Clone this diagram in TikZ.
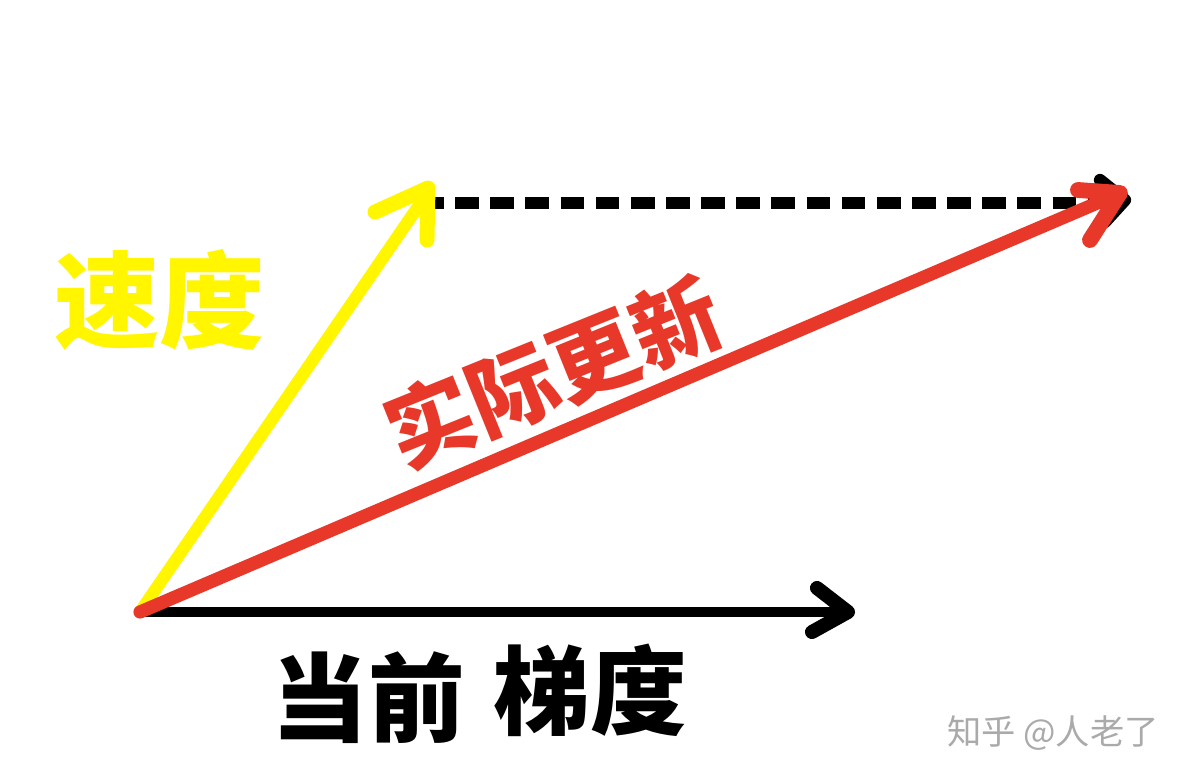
\documentclass[tikz,border=0pt]{standalone}
\usepackage{fontspec}
\newfontfamily\cjk{Noto Sans CJK SC}
\definecolor{yel}{RGB}{255,246,0}
\definecolor{redv}{RGB}{232,56,42}
\definecolor{wm}{RGB}{170,170,170}
\begin{document}
\begin{tikzpicture}[x=0.02cm,y=-0.02cm,
  stroke/.style={line width=#1, line cap=round, line join=round},
  lbl/.style={font=\cjk\bfseries\fontsize{#1}{#1}\selectfont, inner sep=0pt}]
\useasboundingbox (0,0) rectangle (1194,780);
\fill[white] (0,0) rectangle (1194,780);
% coordinates
\coordinate (O) at (140,612);
\coordinate (G) at (845,612);
\coordinate (Gtip) at (848,612);
\coordinate (Ga) at (817,588);
\coordinate (Gb) at (812,632);
\coordinate (V) at (424,198);
\coordinate (Vtip) at (428,188);
\coordinate (Va) at (375,212);
\coordinate (Vb) at (427,240);
\coordinate (D0) at (420,203);
\coordinate (D1) at (1122,203);
\coordinate (Dtip) at (1125,200);
\coordinate (Da) at (1100,180);
\coordinate (Db) at (1105,222);
\coordinate (R) at (1116,195);
\coordinate (Rtip) at (1120,193);
\coordinate (Ra) at (1078,190);
\coordinate (Rb) at (1090,240);
% dashed line with hidden head
\draw[line width=7pt, dash pattern=on 13.5pt off 6.5pt] (D0) -- (D1);
\draw[stroke=7pt] (Da) -- (Dtip) -- (Db);
% black gradient arrow
\draw[stroke=6pt] (O) -- (G);
\draw[stroke=8pt] (Ga) -- (Gtip) -- (Gb);
% yellow velocity arrow
\draw[stroke=7pt, yel] (O) -- (V);
\draw[stroke=8.5pt, yel] (Va) -- (Vtip) -- (Vb);
% red update arrow
\draw[stroke=7.5pt, redv] (O) -- (R);
\draw[stroke=9pt, redv] (Ra) -- (Rtip) -- (Rb);
% labels
\node[lbl=60pt, text=yel] (vel) at (160,300) {速度};
\node[lbl=50pt, text=redv, rotate=22] (upd) at (553,372) {实际更新};
\node[lbl=55pt] (g1) at (368,698) {当前};
\node[lbl=55pt] (g2) at (590,690) {梯度};
\node[font=\cjk\fontsize{19.5pt}{19.5pt}\selectfont, text=wm, inner sep=0pt] (wmk) at (1053,733) {知乎 @人老了};
\end{tikzpicture}
\end{document}
